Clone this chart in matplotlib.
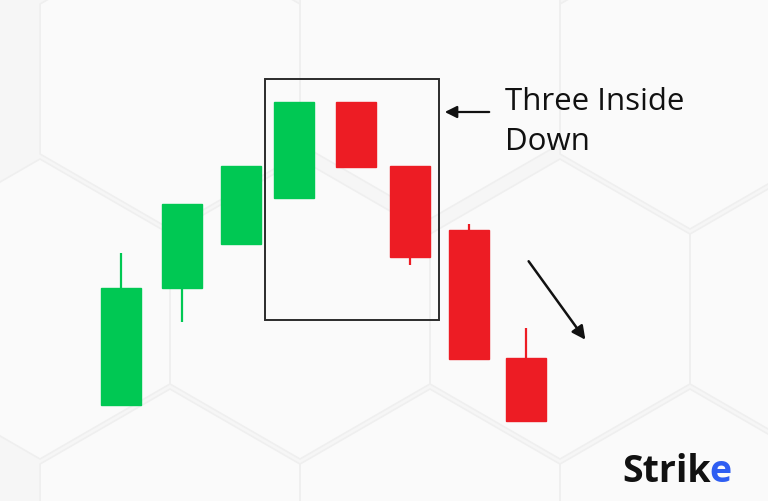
import matplotlib
matplotlib.use("Agg")
import matplotlib.pyplot as plt
from matplotlib.patches import Rectangle, RegularPolygon

# candle data (x position, open, close, high, low)
xs = [121, 182, 241, 294, 356, 410, 469, 526]
opens = [94, 211, 255, 301, 397, 333, 269, 141]
closes = [211, 295, 333, 397, 332, 242, 140, 78]
highs = [246, 295, 333, 397, 397, 333, 275, 171]
lows = [94, 177, 255, 301, 332, 234, 140, 78]

label = ["Three Inside", "Down"]
green = "#00c853"
red = "#ed1c24"
w = 39.5

fig = plt.figure(figsize=(7.68, 5.02), dpi=100)
fig.patch.set_facecolor("#f6f6f6")
ax = fig.add_axes([0, 0, 1, 1])
ax.set_xlim(0, 768)
ax.set_ylim(-2, 500)
ax.axis("off")

# faint hexagon background
for cx, cy in [(170, 420), (430, 430), (690, 420), (40, 190), (300, 190), (560, 190), (170, -40), (430, -40), (690, -40), (820, 190)]:
    ax.add_patch(RegularPolygon((cx, cy), 6, radius=150, orientation=0,
                                facecolor="#fafafa", edgecolor="#efefef", lw=1.2, zorder=0))

for x, o, c, h, l in zip(xs, opens, closes, highs, lows):
    col = green if c >= o else red
    ax.plot([x, x], [l, h], color=col, lw=1.6, solid_capstyle="butt", zorder=2)
    ax.add_patch(Rectangle((x - w / 2, min(o, c)), w, abs(c - o), color=col, zorder=3))

# pattern box
ax.add_patch(Rectangle((264.5, 179.5), 174, 241, fill=False, edgecolor="#2b2b2b", lw=1.4, zorder=4))

ax.annotate("", xy=(442, 387), xytext=(492, 387),
            arrowprops=dict(arrowstyle="-|>", color="#111111", lw=1.6, mutation_scale=18))
ax.text(505, 378, label[0] + "\n" + label[1], fontsize=22.5, family="Open Sans",
        fontweight="medium", color="#111111", va="center", ha="left", linespacing=1.4)

ax.annotate("", xy=(587, 157), xytext=(527, 240),
            arrowprops=dict(arrowstyle="-|>", color="#111111", lw=1.8, mutation_scale=20))

# logo
t = ax.text(622, 18, "Strik", fontsize=27, fontweight="bold", family="Open Sans",
            color="#111111", va="baseline", ha="left")
fig.canvas.draw()
bb = t.get_window_extent()
x1 = ax.transData.inverted().transform((bb.x1, bb.y0))[0]
ax.text(x1 - 1, 18, "e", fontsize=27, fontweight="bold", family="Open Sans",
        color="#2f5ef2", va="baseline", ha="left")

fig.savefig("out.png", dpi=100, facecolor=fig.get_facecolor())
